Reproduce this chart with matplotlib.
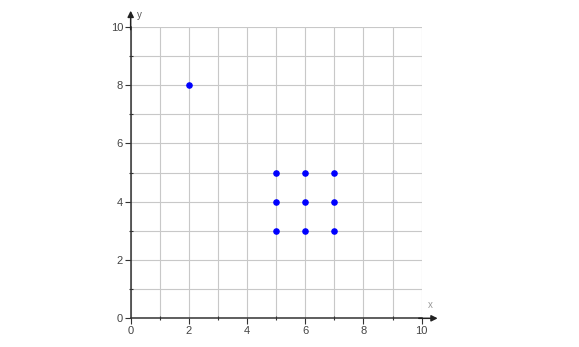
import matplotlib
matplotlib.use("Agg")
import matplotlib.pyplot as plt
from matplotlib.ticker import MultipleLocator

# ---------------------------------------------------------------------------
# Datos
# ---------------------------------------------------------------------------
x_vals = [2, 5, 5, 5, 6, 6, 6, 7, 7, 7]
y_vals = [8, 3, 4, 5, 3, 4, 5, 3, 4, 5]

x_ticks = [0, 2, 4, 6, 8, 10]
y_ticks = [0, 2, 4, 6, 8, 10]

# ---------------------------------------------------------------------------
# Figura
# ---------------------------------------------------------------------------
plt.rcParams["font.family"] = ["Liberation Sans", "DejaVu Sans"]

fig = plt.figure(figsize=(5.79, 3.47), dpi=100)
ax = fig.add_axes([0.2257, 0.0827, 0.5026, 0.8403])

ax.set_xlim(0, 10)
ax.set_ylim(0, 10)

ax.set_xticks(x_ticks)
ax.set_yticks(y_ticks)
ax.xaxis.set_minor_locator(MultipleLocator(1))
ax.yaxis.set_minor_locator(MultipleLocator(1))

ax.grid(True, which="both", color="#c8c8c8", linewidth=0.8)
ax.set_axisbelow(True)

for side in ("top", "right"):
    ax.spines[side].set_visible(False)
for side in ("left", "bottom"):
    ax.spines[side].set_color("#333333")
    ax.spines[side].set_linewidth(1.1)

ax.tick_params(which="major", length=4, width=0.8, color="#333333",
               labelsize=8, labelcolor="#444444", pad=1.5)
ax.tick_params(which="minor", length=3, width=0.8, color="#333333",
               direction="inout")

# Flechas de los ejes
arrow_kw = dict(arrowstyle="-|>", color="#222222", lw=1.1,
                mutation_scale=9, shrinkA=0, shrinkB=0)
ax.annotate("", xy=(10.55, 0), xytext=(9.9, 0), arrowprops=arrow_kw,
            annotation_clip=False)
ax.annotate("", xy=(0, 10.55), xytext=(0, 9.9), arrowprops=arrow_kw,
            annotation_clip=False)
ax.text(10.2, 0.35, "x", fontsize=7, color="#999999", clip_on=False)
ax.text(0.22, 10.3, "y", fontsize=7, color="#555555", clip_on=False)

ax.scatter(x_vals, y_vals, s=14, color="#0000ff", zorder=3, clip_on=False)

fig.savefig("out.png", dpi=100)
